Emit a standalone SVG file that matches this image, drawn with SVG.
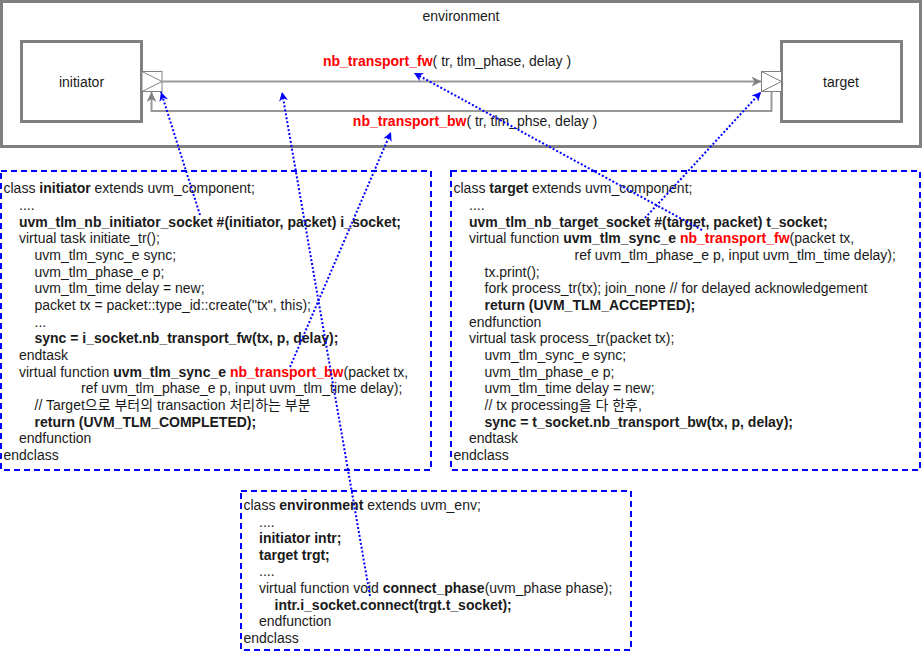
<svg xmlns="http://www.w3.org/2000/svg" width="923" height="653" viewBox="0 0 923 653">
<style>
text{font-family:"Liberation Sans","Noto Sans CJK KR",Arial,sans-serif;font-size:14px;fill:#1a1a1a}
.b{font-weight:bold}
.r{font-weight:bold;fill:#FF0000}
.box{fill:#ffffff;stroke:#808080;stroke-width:3}
.port{fill:#ffffff;stroke:#808080;stroke-width:1}
.code{fill:none;stroke:#0000FF;stroke-width:2;stroke-dasharray:6 4}
.gline{fill:none;stroke:#999999;stroke-width:2}
.bline{fill:none;stroke:#0000FF;stroke-width:2;stroke-dasharray:2 2}
</style>
<defs>
<marker id="ag" viewBox="0 0 10 10" refX="10" refY="5" markerWidth="11" markerHeight="10" markerUnits="userSpaceOnUse" orient="auto">
<path d="M0,0 L10,5 L0,10 L3,5 Z" fill="#808080"/>
</marker>
<marker id="ab" viewBox="0 0 10 10" refX="10" refY="5" markerWidth="11" markerHeight="9" markerUnits="userSpaceOnUse" orient="auto">
<path d="M0,0 L10,5 L0,10 L3,5 Z" fill="#0000FF"/>
</marker>
</defs>

<g id="environment">
<rect x="1.5" y="1.5" width="919" height="145" fill="#ffffff" stroke="#808080" stroke-width="3"/>
<text x="461" y="21" text-anchor="middle">environment</text>
</g>

<g id="initiator">
<rect class="box" x="21.5" y="41.5" width="120" height="80"/>
<text x="81.5" y="86.5" text-anchor="middle">initiator</text>
</g>
<g id="initiator-port">
<rect class="port" x="142" y="71.5" width="20" height="20"/>
<path d="M142,71.5 L162,81.5 L142,91.5" fill="none" stroke="#808080" stroke-width="1"/>
</g>

<g id="target">
<rect class="box" x="781.5" y="41.5" width="120" height="80"/>
<text x="841" y="86.5" text-anchor="middle">target</text>
</g>
<g id="target-port">
<rect class="port" x="761.5" y="71.5" width="20" height="20"/>
<path d="M761.5,71.5 L781.5,81.5 L761.5,91.5" fill="none" stroke="#808080" stroke-width="1"/>
</g>

<g id="connectors">
<path class="gline" d="M162,81.5 L761.5,81.5" marker-end="url(#ag)"/>
<path class="gline" d="M771.5,91.5 L771.5,111 L151.5,111 L151.5,92" marker-end="url(#ag)"/>
<text x="447" y="66" text-anchor="middle"><tspan class="r">nb_transport_fw</tspan>( tr, tlm_phase, delay )</text>
<text x="475" y="126" text-anchor="middle"><tspan class="r">nb_transport_bw</tspan>( tr, tlm_phse, delay )</text>
</g>

<g id="initiator-code">
<rect class="code" x="1" y="171" width="430" height="299"/>
<text x="3.5" y="193.3">class <tspan class="b">initiator</tspan> extends uvm_component;</text>
<text x="19" y="210">....</text>
<text x="19" y="226.7" class="b">uvm_tlm_nb_initiator_socket #(initiator, packet) i_socket;</text>
<text x="19" y="243.3">virtual task initiate_tr();</text>
<text x="34.5" y="260">uvm_tlm_sync_e sync;</text>
<text x="34.5" y="276.7">uvm_tlm_phase_e p;</text>
<text x="34.5" y="293.4">uvm_tlm_time delay = new;</text>
<text x="34.5" y="310">packet tx = packet::type_id::create("tx", this);</text>
<text x="34.5" y="326.7">...</text>
<text x="34.5" y="343.4" class="b">sync = i_socket.nb_transport_fw(tx, p, delay);</text>
<text x="19" y="360">endtask</text>
<text x="19" y="376.7">virtual function <tspan class="b">uvm_tlm_sync_e</tspan> <tspan class="r">nb_transport_bw</tspan>(packet tx,</text>
<text x="81" y="393.4">ref uvm_tlm_phase_e p, input uvm_tlm_time delay);</text>
<text x="34.5" y="410">// Target으로 부터의 transaction 처리하는 부분</text>
<text x="34.5" y="426.7" class="b">return (UVM_TLM_COMPLETED);</text>
<text x="19" y="443.4">endfunction</text>
<text x="3.5" y="460">endclass</text>
</g>

<g id="target-code">
<rect class="code" x="451" y="171" width="469" height="299"/>
<text x="453.5" y="193.3">class <tspan class="b">target</tspan> extends uvm_component;</text>
<text x="469" y="210">....</text>
<text x="469" y="226.7" class="b">uvm_tlm_nb_target_socket #(target, packet) t_socket;</text>
<text x="469" y="243.3">virtual function <tspan class="b">uvm_tlm_sync_e</tspan> <tspan class="r">nb_transport_fw</tspan>(packet tx,</text>
<text x="574.5" y="260">ref uvm_tlm_phase_e p, input uvm_tlm_time delay);</text>
<text x="484.5" y="276.7">tx.print();</text>
<text x="484.5" y="293.4">fork process_tr(tx); join_none // for delayed acknowledgement</text>
<text x="484.5" y="310" class="b">return (UVM_TLM_ACCEPTED);</text>
<text x="469" y="326.7">endfunction</text>
<text x="469" y="343.4">virtual task process_tr(packet tx);</text>
<text x="484.5" y="360">uvm_tlm_sync_e sync;</text>
<text x="484.5" y="376.7">uvm_tlm_phase_e p;</text>
<text x="484.5" y="393.4">uvm_tlm_time delay = new;</text>
<text x="484.5" y="410">// tx processing을 다 한후,</text>
<text x="484.5" y="426.7" class="b">sync = t_socket.nb_transport_bw(tx, p, delay);</text>
<text x="469" y="443.4">endtask</text>
<text x="453.5" y="460">endclass</text>
</g>

<g id="environment-code">
<rect class="code" x="241" y="491" width="390" height="159"/>
<text x="243.5" y="510">class <tspan class="b">environment</tspan> extends uvm_env;</text>
<text x="259" y="526.6">....</text>
<text x="259" y="543.2" class="b">initiator intr;</text>
<text x="259" y="559.8" class="b">target trgt;</text>
<text x="259" y="576.4">....</text>
<text x="259" y="593">virtual function void <tspan class="b">connect_phase</tspan>(uvm_phase phase);</text>
<text x="274.5" y="609.6" class="b">intr.i_socket.connect(trgt.t_socket);</text>
<text x="259" y="626.2">endfunction</text>
<text x="243.5" y="642.8">endclass</text>
</g>

<g id="links">
<path class="bline" d="M200,215 L161,92" marker-end="url(#ab)"/>
<path class="bline" d="M370,596 L282,92" marker-end="url(#ab)"/>
<path class="bline" d="M290,367 L391,132" marker-end="url(#ab)"/>
<path class="bline" d="M645,218 L761,92" marker-end="url(#ab)"/>
<path class="bline" d="M702,230 L414,73" marker-end="url(#ab)"/>
</g>
</svg>
